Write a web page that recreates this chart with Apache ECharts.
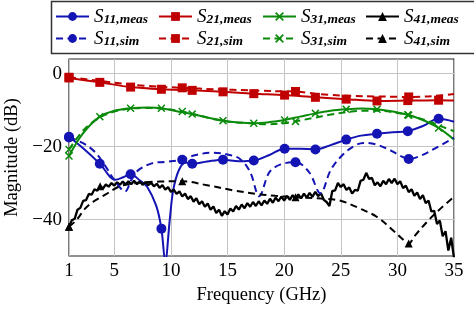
<!DOCTYPE html>
<html>
<head>
<meta charset="utf-8">
<script src="https://cdn.jsdelivr.net/npm/echarts@6/dist/echarts.min.js"></script>
<style>
  html, body { margin: 0; padding: 0; background: #fff; }
  #chart { width: 474px; height: 324px; }
</style>
</head>
<body>
<div id="chart"></div>
<script>
// Axis ticks
const xTicks = [1, 5, 10, 15, 20, 25, 30, 35];
const yTicks = [-40, -20, 0];

// Frequencies (GHz) carrying a marker: measured traces / simulated traces
const measMarks = [1, 3.72, 6.44, 9.16, 11.88, 14.6, 17.32, 20.04, 22.76, 25.48, 28.2, 30.92, 33.64];
const simMarks = [1, 11, 21, 31];
// On the noisy S41 trace only the first markers stand out from the trace itself
const s41MeasMarks = [1, 3.72];

// [frequency GHz, magnitude dB]
const s11Meas = [[1,-17.3],[2.3,-20.6],[3.72,-24.7],[5.1,-29.1],[5.8,-28.4],[6.44,-27.6],[7.3,-29.4],[7.9,-31],[8.7,-36.2],[9.16,-42.5],[9.5,-51.5],[9.9,-40],[10.2,-32],[10.7,-26.5],[11.3,-24.4],[11.88,-24.7],[13.2,-24.1],[14.6,-23.6],[16.0,-24.0],[17.32,-23.8],[18.7,-22.3],[20.04,-20.6],[21.4,-20.6],[22.76,-20.8],[24.1,-19.6],[25.48,-18.1],[26.8,-17.0],[28.2,-16.5],[29.6,-16.1],[30.92,-15.8],[32.3,-14.3],[33.64,-12.4],[35,-13.2]];
const s11Sim = [[1,-17.5],[2.2,-19.0],[3.3,-21.5],[4.2,-25.3],[5.1,-29.6],[5.95,-32.3],[6.5,-29.2],[7.0,-26.8],[8.3,-24.6],[9.5,-24.2],[11,-23.6],[12.2,-22.3],[13.7,-21.7],[15.0,-22.2],[16.1,-23.4],[17.0,-27.0],[17.8,-33.6],[18.7,-27.0],[19.7,-24.9],[21,-24.3],[22.2,-27.0],[23.2,-32.8],[24.1,-26.5],[25.0,-22.8],[26.0,-20.2],[27.0,-19.0],[28.1,-19.4],[29.3,-20.9],[30.3,-22.6],[31,-23.4],[32.0,-22.6],[33.5,-20.2],[35,-17.6]];
const s21Meas = [[1,-1.2],[3.72,-2.4],[6.44,-3.7],[9.16,-4.3],[11.88,-4.6],[14.6,-5.0],[17.32,-5.5],[20.04,-5.9],[22.76,-6.5],[25.48,-7.0],[28.2,-7.5],[30.92,-7.4],[33.64,-7.3],[35,-7.4]];
const s21Sim = [[1,-1.0],[3.7,-2.0],[6.4,-3.0],[9,-3.6],[11,-3.9],[14,-4.3],[17,-4.6],[19,-4.8],[21,-4.9],[23,-5.6],[25,-6.0],[27,-6.2],[29,-6.3],[31,-6.4],[33,-6.2],[35,-5.6]];
const s31Meas = [[1,-22.6],[2.2,-16.5],[3.72,-11.8],[5.0,-10.2],[6.44,-9.5],[8.0,-9.3],[9.16,-9.5],[10.5,-10.3],[11.88,-11.1],[13.2,-12.0],[14.6,-12.9],[16.0,-13.4],[17.32,-13.6],[18.7,-13.3],[20.04,-12.7],[21.4,-11.8],[22.76,-10.9],[24.1,-10.2],[25.48,-9.8],[26.8,-9.6],[28.2,-9.8],[29.6,-10.4],[30.92,-11.3],[32.3,-12.8],[33.64,-14.9],[35,-18.1]];
const s31Sim = [[1,-20.8],[2.2,-15.8],[3.5,-12.4],[5.0,-10.4],[6.5,-9.6],[8,-9.4],[9.5,-9.7],[11,-10.4],[12.5,-11.5],[14,-12.6],[15.5,-13.3],[17,-13.6],[18.5,-13.9],[20,-13.6],[21,-13.1],[22.5,-12.2],[24,-11.3],[25.5,-10.6],[27,-10.2],[28.5,-10.2],[30,-10.8],[31,-11.4],[32.5,-12.8],[34,-14.6],[35,-15.8]];
const s41Sim = [[1,-42],[1.7,-40],[2.4,-37.1],[3.2,-35],[4.2,-33.2],[5.4,-31],[6.5,-30.2],[7.7,-29.8],[9,-29.6],[11,-29.5],[13.2,-30.6],[15.5,-32.0],[17.6,-33.0],[19.2,-33.5],[21,-33.9],[23,-34.2],[24.9,-34.8],[26.7,-37.0],[28.2,-39.3],[29.7,-43.2],[30.5,-45.5],[31,-46.6],[31.5,-44.6],[32.6,-40.7],[33.7,-37.3],[35,-33.8]];

// Measured S41: sampled every 0.25 GHz starting at 1 GHz
const s41MeasStart = 1;
const s41MeasStep = 0.25;
const s41MeasDb = [
  -42.0,-40.2,-39.8,-37.3,-36.8,-34.9,-34.7,-33.0,-33.2,-31.7,
  -32.1,-30.9,-31.5,-30.4,-31.0,-30.0,-30.7,-29.8,-30.5,-29.6,
  -30.4,-29.5,-30.3,-29.4,-30.3,-29.6,-30.5,-29.7,-30.6,-29.9,
  -30.9,-30.2,-31.3,-30.6,-31.8,-31.1,-32.4,-31.8,-33.0,-32.3,
  -33.7,-32.9,-34.4,-33.6,-35.1,-34.2,-35.8,-35.0,-36.5,-35.6,
  -37.3,-36.4,-38.2,-37.3,-39.0,-37.7,-38.6,-37.0,-37.8,-36.3,
  -37.3,-35.9,-36.9,-35.5,-36.5,-35.2,-36.3,-35.0,-36.1,-34.8,
  -35.7,-34.3,-35.4,-34.0,-35.0,-33.7,-34.8,-33.5,-34.6,-33.3,
  -34.4,-33.1,-34.2,-32.9,-34.0,-32.7,-33.8,-32.4,-33.6,-32.8,
  -34.6,-35.2,-36.3,-32.2,-32.0,-30.0,-31.1,-30.3,-31.9,-31.2,
  -32.9,-31.9,-32.1,-29.4,-29.1,-27.2,-28.9,-28.6,-30.6,-29.8,
  -30.9,-29.4,-30.3,-28.9,-30.0,-28.8,-30.3,-29.5,-31.4,-30.7,
  -32.5,-31.7,-33.5,-32.6,-34.4,-33.3,-35.5,-34.8,-37.8,-37.6,
  -41.2,-40.3,-44.6,-43.2,-48.5,-45.0,-50.5
];
const s41Meas = s41MeasDb.map((v, i) => [s41MeasStart + i * s41MeasStep, v]);

const BLUE = '#1414b4';
const RED = '#c00000';
const GREEN = '#0a8a0a';
const BLACK = '#000000';
const SERIF = '"Liberation Serif", "DejaVu Serif", serif';
const CROSS = 'path://M0,1.3L1.3,0L5,3.7L8.7,0L10,1.3L6.3,5L10,8.7L8.7,10L5,6.3L1.3,10L0,8.7L3.7,5Z';

// Keep the symbol only on the sample closest to each marker frequency
function markData(points, marks) {
  const keep = new Set();
  marks.forEach(m => {
    let best = 0;
    points.forEach((p, i) => { if (Math.abs(p[0] - m) < Math.abs(points[best][0] - m)) best = i; });
    keep.add(best);
  });
  return points.map((p, i) => keep.has(i) ? { value: p } : { value: p, symbol: 'none' });
}

function trace(name, color, symbol, size, dashed, points, marks, smooth, width) {
  return {
    name, type: 'line', smooth,
    data: markData(points, marks),
    symbol, symbolSize: size, showAllSymbol: true,
    lineStyle: { color, width: width || 2, type: dashed ? [7, 4.5] : 'solid' },
    itemStyle: { color, borderWidth: 0 },
    emphasis: { disabled: true },
    clip: true
  };
}

const series = [
  trace('S11,meas', BLUE, 'circle', 10, false, s11Meas, measMarks, 0.35),
  trace('S21,meas', RED, 'rect', 9, false, s21Meas, measMarks, 0.3),
  trace('S31,meas', GREEN, CROSS, 8, false, s31Meas, measMarks, 0.35),
  trace('S41,meas', BLACK, 'triangle', 8, false, s41Meas, s41MeasMarks, false, 2.3),
  trace('S11,sim', BLUE, 'circle', 10, true, s11Sim, simMarks, 0.35),
  trace('S21,sim', RED, 'rect', 9, true, s21Sim, simMarks, 0.3),
  trace('S31,sim', GREEN, CROSS, 8, true, s31Sim, simMarks, 0.35),
  trace('S41,sim', BLACK, 'triangle', 8, true, s41Sim, simMarks, 0.35)
];

const legendCols = [55, 158, 262, 365];
const legendRows = [7, 29];
const legends = series.map((s, i) => ({
  data: [s.name],
  left: legendCols[i % 4],
  top: legendRows[Math.floor(i / 4)],
  itemWidth: 33, itemHeight: 11, padding: 0,
  selectedMode: false,
  formatter: n => { const p = n.split(','); return '{s|S}{b|' + p[0].slice(1) + ',' + p[1] + '}'; },
  textStyle: {
    color: '#000',
    rich: {
      s: { fontFamily: SERIF, fontStyle: 'italic', fontSize: 19, lineHeight: 20, color: '#000' },
      b: { fontFamily: SERIF, fontStyle: 'italic', fontWeight: 'bold', fontSize: 13.5, lineHeight: 13, verticalAlign: 'bottom', color: '#000' }
    }
  }
}));

const fmtY = v => (v < 0 ? '\u2212' + Math.abs(v) : String(v));

const chart = echarts.init(document.getElementById('chart'), null, { renderer: 'canvas' });
chart.setOption({
  animation: false,
  backgroundColor: '#fff',
  legend: legends,
  graphic: [{
    type: 'rect', left: 49, top: -1, z: 100,
    shape: { width: 424, height: 52 },
    style: { fill: 'none', stroke: '#333', lineWidth: 1.5 }
  }],
  grid: {
    left: 69, right: 20, top: 59, bottom: 68,
    outerBoundsMode: 'none', containLabel: false,
    show: true, borderColor: '#222', borderWidth: 1.2, backgroundColor: 'transparent'
  },
  xAxis: {
    type: 'value', min: 1, max: 35,
    name: 'Frequency (GHz)', nameLocation: 'middle', nameGap: 28,
    nameTextStyle: { fontFamily: SERIF, fontSize: 18.5, color: '#000' },
    axisLine: { show: false },
    axisTick: { show: true, inside: true, length: 0, customValues: xTicks },
    axisLabel: { customValues: xTicks, fontFamily: SERIF, fontSize: 19, color: '#000', margin: 6, alignMinLabel: 'center', alignMaxLabel: 'center' },
    splitLine: { show: true, lineStyle: { color: '#c4c4c4', width: 1 } }
  },
  yAxis: {
    type: 'value', min: -50, max: 4,
    name: 'Magnitude (dB)', nameLocation: 'middle', nameGap: 46, nameRotate: 90,
    nameTextStyle: { fontFamily: SERIF, fontSize: 18.5, color: '#000' },
    axisLine: { show: false },
    axisTick: { show: true, inside: true, length: 0, customValues: yTicks },
    axisLabel: { customValues: yTicks, formatter: fmtY, fontFamily: SERIF, fontSize: 19, color: '#000', margin: 7 },
    splitLine: { show: true, lineStyle: { color: '#c4c4c4', width: 1 } }
  },
  series
});
</script>
</body>
</html>
